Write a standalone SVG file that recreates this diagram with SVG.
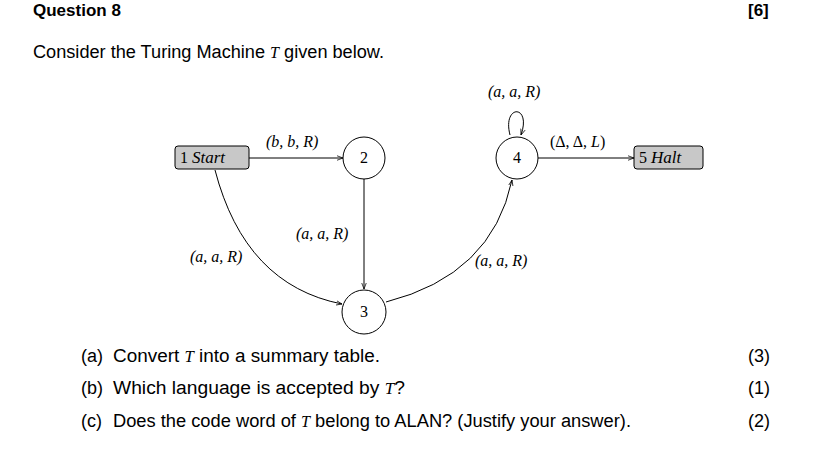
<svg xmlns="http://www.w3.org/2000/svg" width="840" height="474" viewBox="0 0 840 474">
<style>
.t{font-family:"Liberation Sans",Arial,sans-serif;font-size:18px;fill:#000}
.b{font-weight:bold;font-size:17px}
.m{font-family:"Liberation Serif","Times New Roman",serif;font-size:16px;fill:#000}
.i{font-style:italic}
.n{fill:#fff;stroke:#000;stroke-width:1}
.g{fill:#c8c8c8;stroke:#000;stroke-width:1}
.e{fill:none;stroke:#000;stroke-width:1}
</style>
<defs><marker id="a" viewBox="0 0 8 8" refX="8" refY="4" markerWidth="6" markerHeight="6" orient="auto"><path d="M0,1 L8,4 L0,7" fill="none" stroke="#000" stroke-width="1"/></marker></defs>
<rect width="840" height="474" fill="#fff"/>
<text class="t b" x="33" y="16">Question 8</text>
<text class="t b" x="748" y="16">[6]</text>
<text class="t" x="33" y="58" textLength="351" lengthAdjust="spacingAndGlyphs">Consider the Turing Machine <tspan class="m i" font-size="18">T</tspan> given below.</text>
<g id="connectors">
<path class="e" d="M249,158 L343,158" marker-end="url(#a)"/>
<path class="e" d="M364,179 L364,289" marker-end="url(#a)"/>
<path class="e" d="M215,170 Q245,285 342,304" marker-end="url(#a)"/>
<path class="e" d="M386,302 Q492,275 512,180" marker-end="url(#a)"/>
<path class="e" d="M510,135 C502,104 532,104 521,135" marker-end="url(#a)"/>
<path class="e" d="M538,158 L634,158" marker-end="url(#a)"/>
<text class="m i" x="266" y="147">(b, b, R)</text>
<text class="m i" x="296" y="239">(a, a, R)</text>
<text class="m i" x="190" y="262">(a, a, R)</text>
<text class="m i" x="475" y="266">(a, a, R)</text>
<text class="m i" x="488" y="97">(a, a, R)</text>
<text class="m" x="550" y="147">(Δ, Δ, <tspan class="i">L</tspan>)</text>
</g>
<g id="n1"><rect class="g" x="175" y="146" width="74" height="23" rx="3"/><text class="m" x="180" y="163">1 <tspan class="i" font-size="17">Start</tspan></text></g>
<g id="n2"><circle class="n" cx="364" cy="158" r="21"/><text class="m" x="364" y="163" text-anchor="middle">2</text></g>
<g id="n3"><circle class="n" cx="364" cy="312" r="22"/><text class="m" x="364" y="317" text-anchor="middle">3</text></g>
<g id="n4"><circle class="n" cx="517" cy="158" r="21"/><text class="m" x="517" y="163" text-anchor="middle">4</text></g>
<g id="n5"><rect class="g" x="634" y="146" width="69" height="23" rx="3"/><text class="m" x="639" y="163">5 <tspan class="i" font-size="17">Halt</tspan></text></g>
<text class="t" x="81" y="362">(a)</text><text class="t" x="113" y="362" textLength="267" lengthAdjust="spacingAndGlyphs">Convert <tspan class="m i" font-size="18">T</tspan> into a summary table.</text>
<text class="t" x="81" y="394">(b)</text><text class="t" x="113" y="394" textLength="292" lengthAdjust="spacingAndGlyphs">Which language is accepted by <tspan class="m i" font-size="18">T</tspan>?</text>
<text class="t" x="81" y="427">(c)</text><text class="t" x="113" y="427" textLength="518" lengthAdjust="spacingAndGlyphs">Does the code word of <tspan class="m i" font-size="18">T</tspan> belong to ALAN? (Justify your answer).</text>
<text class="t" x="748" y="362">(3)</text>
<text class="t" x="748" y="394">(1)</text>
<text class="t" x="748" y="427">(2)</text>
</svg>
